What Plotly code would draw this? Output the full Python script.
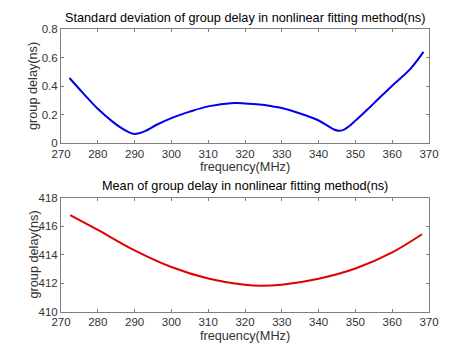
import plotly.graph_objects as go

# Standard deviation of group delay (ns)
std_freq = [272.3, 276, 280, 284, 287, 288.5, 289.8, 291.2, 293, 296, 300, 305, 310, 316.9, 320, 324,
            327, 330, 335, 340, 342.5, 344.2, 345.4, 346.6, 348, 350, 355, 360, 365, 368.5]
std_vals = [0.456, 0.35, 0.24, 0.15, 0.095, 0.075, 0.064, 0.068, 0.085, 0.128, 0.175, 0.22, 0.257, 0.28,
            0.278, 0.27, 0.259, 0.245, 0.207, 0.158, 0.12, 0.095, 0.086, 0.09, 0.112, 0.157, 0.278, 0.402, 0.522, 0.639]

# Mean of group delay (ns)
mean_freq = [272.5, 280, 290, 300, 310, 320, 324.2, 330, 340, 350, 360, 368.1]
mean_vals = [416.77, 415.73, 414.29, 413.12, 412.31, 411.87, 411.80, 411.88, 412.3, 413.02, 414.15, 415.42]

x_ticks = [270, 280, 290, 300, 310, 320, 330, 340, 350, 360, 370]
std_ticks = [0, 0.2, 0.4, 0.6, 0.8]
mean_ticks = [410, 412, 414, 416, 418]

titles = ["Standard deviation of group delay in nonlinear fitting method(ns)",
          "Mean of group delay in nonlinear fitting method(ns)"]
x_label = "frequency(MHz)"
y_label = "group delay(ns)"

W, H = 474, 355
OFF = 8  # page body margin offset
FONT = "Liberation Sans, Arial, sans-serif"
AX = "#7f7f7f"
TXT = "#333333"


def px(x):
    return (x - OFF) / W


def py(y):
    return 1 - (y - OFF) / H


fig = go.Figure()
fig.add_trace(go.Scatter(x=std_freq, y=std_vals, mode="lines", line=dict(color="#0000ee", width=2, shape="spline", smoothing=1.0),
                         xaxis="x", yaxis="y", showlegend=False))
fig.add_trace(go.Scatter(x=mean_freq, y=mean_vals, mode="lines", line=dict(color="#e00000", width=2, shape="spline", smoothing=1.0),
                         xaxis="x2", yaxis="y2", showlegend=False))

xd = [px(61), px(429)]
yd1 = [py(143), py(29)]
yd2 = [py(311.5), py(197.5)]

common_axis = dict(showline=True, linecolor=AX, linewidth=1, mirror="ticks", ticks="inside", ticklen=3,
                   tickcolor=AX, showgrid=False, zeroline=False, automargin=False,
                   tickfont=dict(family=FONT, size=11.5, color=TXT))

lbl_font = dict(family=FONT, size=12.7, color=TXT)
ttl_font = dict(family=FONT, size=12.7, color="black")

fig.update_layout(
    width=W, height=H, margin=dict(l=0, r=0, t=0, b=0, autoexpand=False),
    paper_bgcolor="white", plot_bgcolor="white",
    xaxis=dict(domain=xd, anchor="y", range=[270, 370], tickvals=x_ticks,
               title=dict(text=x_label, font=lbl_font, standoff=3), **common_axis),
    yaxis=dict(domain=yd1, anchor="x", range=[0, 0.8], tickvals=std_ticks, ticktext=["0", "0.2", "0.4", "0.6", "0.8"],
               **common_axis),
    xaxis2=dict(domain=xd, anchor="y2", range=[270, 370], tickvals=x_ticks,
                title=dict(text=x_label, font=lbl_font, standoff=3), **common_axis),
    yaxis2=dict(domain=yd2, anchor="x2", range=[410, 418], tickvals=mean_ticks, **common_axis),
    annotations=[
        dict(text=titles[0], x=px(245), y=py(18), xref="paper", yref="paper", showarrow=False,
             xanchor="center", yanchor="middle", font=ttl_font),
        dict(text=titles[1], x=px(245), y=py(186), xref="paper", yref="paper", showarrow=False,
             xanchor="center", yanchor="middle", font=ttl_font),
        dict(text=y_label, x=px(33), y=py(86), xref="paper", yref="paper", showarrow=False, textangle=-90,
             xanchor="center", yanchor="middle", font=lbl_font),
        dict(text=y_label, x=px(33), y=py(254.5), xref="paper", yref="paper", showarrow=False, textangle=-90,
             xanchor="center", yanchor="middle", font=lbl_font),
    ],
)

fig.write_html("out.html")
